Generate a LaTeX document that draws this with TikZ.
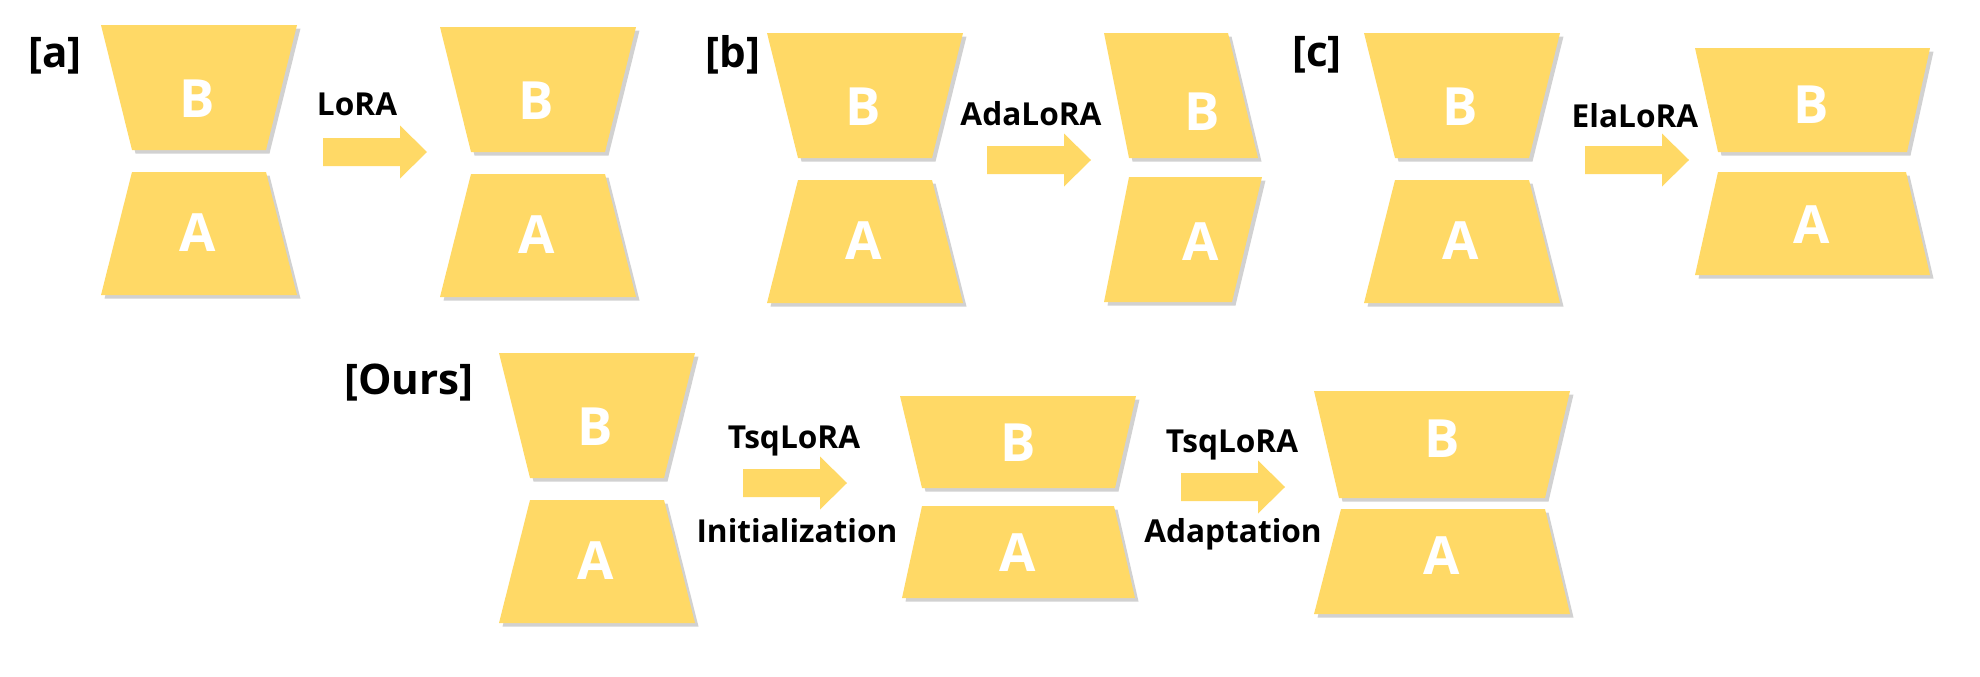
\documentclass[tikz,border=0pt]{standalone}
\usepackage{fontspec}
\setmainfont{Open Sans}
\usepackage{xcolor}
\usepackage{tikz}
\usetikzlibrary{shadows}

\definecolor{loraYellow}{RGB}{255,217,102}

\tikzset{
  blk/.style={fill=loraYellow, drop shadow={shadow xshift=0.07cm, shadow yshift=-0.07cm, fill=black, opacity=0.18}},
  lettr/.style={text=white, font=\fontsize{30}{30}\selectfont\bfseries, inner sep=0},
  capn/.style={font=\fontsize{18}{18}\selectfont\bfseries, inner sep=0, anchor=base},
  tag/.style={font=\fontsize{24}{24}\selectfont\bfseries, inner sep=0}
}

\begin{document}
\begin{tikzpicture}[x=0.02cm, y=-0.02cm]
\useasboundingbox (0,0) rectangle (1980,676);

% plain B/A pairs
\foreach \i/\x/\y in {1/101/25, 2/440/27, 3/767/33, 5/1364/33, 7/499/353}{
	\fill[blk] (\x,\y) -- ++(196,0) -- ++(-31,125) -- ++(-134,0) -- cycle;
	\fill[blk] (\x+31,\y+147) -- ++(134,0) -- ++(31,123) -- ++(-196,0) -- cycle;
	\node[lettr] (b\i) at (\x+96,\y+74) {B};
	\node[lettr] (a\i) at (\x+97,\y+208) {A};
}

% AdaLoRA result
\fill[blk] (1104,33)--(1228,33)--(1258,158)--(1129,158)--cycle;
\fill[blk] (1129,177)--(1262,177)--(1232,302)--(1104,302)--cycle;
\node[lettr] (b4) at (1202,112) {B};
\node[lettr] (a4) at (1201,242) {A};

% ElaLoRA result
\fill[blk] (1695,48)--(1930,48)--(1907,152)--(1718,152)--cycle;
\fill[blk] (1718,172)--(1906,172)--(1930,275)--(1695,275)--cycle;
\node[lettr] (b6) at (1811,105) {B};
\node[lettr] (a6) at (1812,225) {A};

% ours
\fill[blk] (900,396)--(1136,396)--(1115,488)--(922,488)--cycle;
\fill[blk] (922,506)--(1114,506)--(1135,598)--(902,598)--cycle;
\node[lettr] (b8) at (1018,443) {B};
\node[lettr] (a8) at (1018,553) {A};
\fill[blk] (1314,391)--(1570,391)--(1545,498)--(1339,498)--cycle;
\fill[blk] (1341,509)--(1545,509)--(1570,614)--(1314,614)--cycle;
\node[lettr] (b9) at (1442,439) {B};
\node[lettr] (a9) at (1442,556) {A};

% block arrows
\foreach \xs/\yc in {323/152, 987/160, 1585/160, 743/483, 1181/487}{
	\fill[loraYellow] (\xs,\yc-14) -- ++(77,0) -- ++(0,-12.5) -- ++(27,26.5) -- ++(-27,26.5) -- ++(0,-12.5) -- ++(-77,0) -- cycle;
}

\node[capn] (c1) at (357,115) {LoRA};
\node[capn] (c2) at (1031,125) {AdaLoRA};
\node[capn] (c3) at (1635,127) {ElaLoRA};
\node[capn] (c4) at (794,448) {TsqLoRA};
\node[capn] (c5) at (797,542) {Initialization};
\node[capn] (c6) at (1232,452) {TsqLoRA};
\node[capn] (c7) at (1233,542) {Adaptation};

\node[tag] (ta) at (55,56) {[a]};
\node[tag] (tb) at (733,55) {[b]};
\node[tag] (tc) at (1317,55) {[c]};
\node[tag] (tours) at (409,383) {[Ours]};

\end{tikzpicture}
\end{document}
